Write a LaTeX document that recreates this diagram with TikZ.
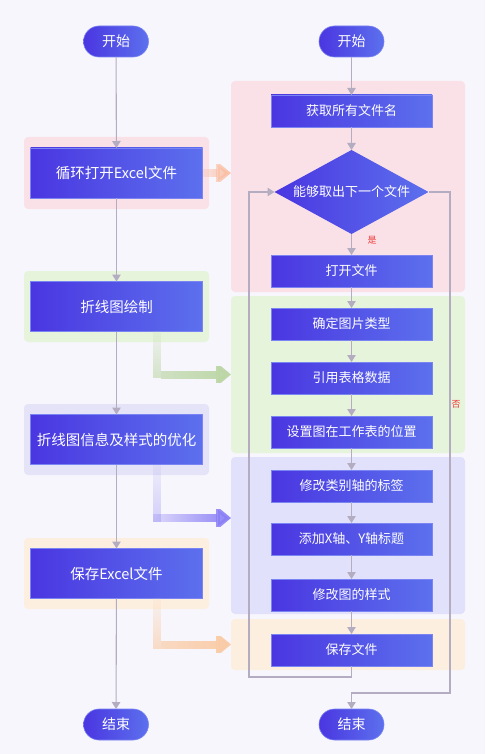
\documentclass[tikz,border=0pt]{standalone}
\usepackage{fontspec}
\setmainfont{Noto Sans CJK SC}
\newfontfamily\cjk{Noto Sans CJK SC}
\usetikzlibrary{positioning,arrows.meta,shapes.geometric,fadings}
\definecolor{paper}{RGB}{247,246,252}
\definecolor{ink}{RGB}{74,54,225}
\definecolor{sky}{RGB}{92,112,237}
\definecolor{rim}{RGB}{122,132,242}
\definecolor{wire}{RGB}{180,173,194}
\definecolor{rosebg}{RGB}{249,225,231}
\definecolor{leafbg}{RGB}{230,244,220}
\definecolor{lilacbg}{RGB}{226,225,251}
\definecolor{lilacleft}{RGB}{229,227,247}
\definecolor{peachbg}{RGB}{253,239,224}
\definecolor{rosefat}{RGB}{251,188,160}
\definecolor{leaffat}{RGB}{188,214,166}
\definecolor{lilacfat}{RGB}{138,126,246}
\definecolor{peachfat}{RGB}{250,203,166}
\definecolor{mark}{RGB}{240,60,60}
\tikzfading[name=fadeupsoft,top color=transparent!92,bottom color=transparent!35]
\tikzfading[name=fadeupfaint,top color=transparent!95,bottom color=transparent!65]
\tikzfading[name=fadeleft,left color=transparent!80,right color=transparent!0]
\tikzfading[name=fadeleftsoft,left color=transparent!35,right color=transparent!0]

\begin{document}
\begin{tikzpicture}[x=1pt,y=-1pt,>={Triangle[width=8.5pt,length=7pt]},
    every node/.style={outer sep=0pt},
    term/.style={draw=rim,line width=0.6pt,left color=ink,right color=sky,text=white,font=\cjk\fontsize{14}{16}\selectfont,minimum width=65pt,minimum height=31pt,rounded corners=15.5pt,inner sep=0pt},
    stage/.style={draw=rim,line width=0.6pt,left color=ink,right color=sky,text=white,font=\cjk\fontsize{14.5}{17}\selectfont,minimum width=172pt,minimum height=50pt,inner sep=0pt},
    task/.style={draw=rim,line width=0.6pt,left color=ink,right color=sky,text=white,font=\cjk\fontsize{13}{15}\selectfont,minimum width=161pt,minimum height=32pt,inner sep=0pt},
    test/.style={diamond,aspect=1.83,left color=ink,right color=sky,text=white,font=\cjk\fontsize{13}{15}\selectfont,minimum width=154pt,minimum height=84pt,inner sep=0pt},
    grp/.style={rounded corners=4pt,inner sep=0pt},
    flow/.style={draw=wire,line width=1.1pt,->},
    fatbar/.style={line width=8pt},
    fat/.style={line width=8pt,-{Triangle[width=24pt,length=15pt]}},
    tag/.style={text=mark,font=\cjk\fontsize{9}{10}\selectfont,inner sep=0pt}]
    \fill[paper] (0,0) rectangle (485,754);
    % groups
    \node[grp,fill=rosebg,minimum width=185pt,minimum height=72pt] (lg1) at (116.5,173) {};
    \node[grp,fill=leafbg,minimum width=185pt,minimum height=71pt] (lg2) at (116.5,306.5) {};
    \node[grp,fill=lilacleft,minimum width=185pt,minimum height=71pt] (lg3) at (116.5,439.5) {};
    \node[grp,fill=peachbg,minimum width=185pt,minimum height=71pt] (lg4) at (116.5,573.5) {};
    \node[grp,fill=rosebg,minimum width=234pt,minimum height=211pt] (rg1) at (348,186.5) {};
    \node[grp,fill=leafbg,minimum width=234pt,minimum height=157pt] (rg2) at (348,374.5) {};
    \node[grp,fill=lilacbg,minimum width=234pt,minimum height=157pt] (rg3) at (348,535.5) {};
    \node[grp,fill=peachbg,minimum width=234pt,minimum height=51pt] (rg4) at (348,644.5) {};
    % left column
    \node[term] (s1) at (116,41.5) {开始};
    \node[stage] (loop) at (lg1) {循环打开Excel文件};
    \node[stage] (chart) at (lg2) {折线图绘制};
    \node[stage] (tune) at (lg3) {折线图信息及样式的优化};
    \node[stage] (keep) at (lg4) {保存Excel文件};
    \node[term] (e1) at (116,724.5) {结束};
    % right column
    \node[term] (s2) at (351.5,41.5) {开始};
    \node[task,below=38pt of s2] (names) {获取所有文件名};
    \node[test,below=23pt of names] (next) {能够取出下一个文件};
    \node[task,below=21pt of next] (open) {打开文件};
    \node[task,below=21pt of open] (kind) {确定图片类型};
    \node[task,below=22pt of kind] (data) {引用表格数据};
    \node[task,below=22pt of data] (place) {设置图在工作表的位置};
    \node[task,below=22pt of place] (axis) {修改类别轴的标签};
    \node[task,below=21pt of axis] (title) {添加X轴、Y轴标题};
    \node[task,below=24pt of title] (look) {修改图的样式};
    \node[task,below=23pt of look] (save) {保存文件};
    \node[term,below=43pt of save] (e2) {结束};
    \coordinate (lpb) at (249,677);
    \coordinate (rpb) at (450,693);
    \coordinate (gk) at ([xshift=40pt]chart.south |- rg2.west);
    \coordinate (pk) at ([xshift=40pt]tune.south |- 0,518);
    \coordinate (ok) at ([xshift=40pt]keep.south |- rg4.west);
    % wide arrows
    \draw[fat,rosefat,path fading=fadeleft] (loop.east) -- (loop.east -| rg1.west);
    \draw[fatbar,leaffat,path fading=fadeupsoft] ([xshift=40pt]chart.south) -- ([yshift=-4pt]gk);
    \draw[fat,leaffat,path fading=fadeleftsoft] ([xshift=4pt]gk) -- (rg2.west);
    \draw[fatbar,lilacfat,path fading=fadeupfaint] ([xshift=40pt]tune.south) -- ([yshift=-4pt]pk);
    \draw[fat,lilacfat,path fading=fadeleft] ([xshift=-4pt]pk) -- (pk -| rg3.west);
    \draw[fatbar,peachfat,path fading=fadeupsoft] ([xshift=40pt]keep.south) -- ([yshift=-4pt]ok);
    \draw[fat,peachfat,path fading=fadeleftsoft] ([xshift=4pt]ok) -- (rg4.west);
    % flow
    \draw[flow] (s1) -- (loop);
    \draw[flow] (loop) -- (chart);
    \draw[flow] (chart) -- (tune);
    \draw[flow] (tune) -- (keep);
    \draw[flow] (keep) -- (e1);
    \draw[flow] (s2) -- (names);
    \draw[flow] (names) -- (next);
    \draw[flow] (next) -- (open);
    \draw[flow] (open) -- (kind);
    \draw[flow] (kind) -- (data);
    \draw[flow] (data) -- (place);
    \draw[flow] (place) -- (axis);
    \draw[flow] (axis) -- (title);
    \draw[flow] (title) -- (look);
    \draw[flow] (look) -- (save);
    \draw[flow] (save.south) |- (lpb) |- (next.west);
    \draw[flow] (next.east) -| (rpb) -| (e2.north);
    \node[tag] (yes) at (372,240) {是};
    \node[tag] (no) at (456,404) {否};
\end{tikzpicture}
\end{document}
